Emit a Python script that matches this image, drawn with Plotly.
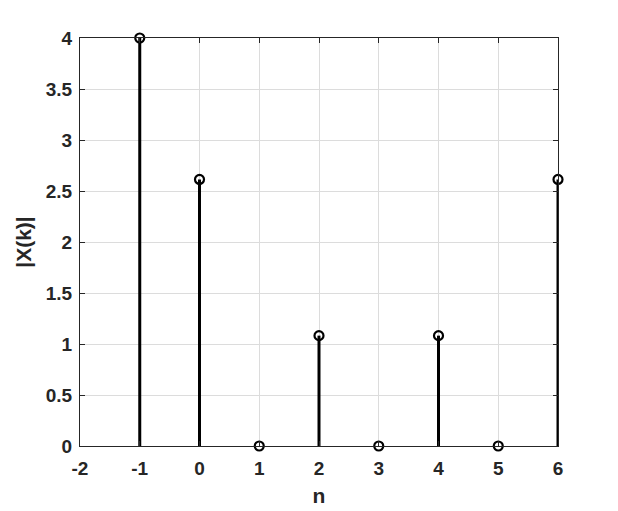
import plotly.graph_objects as go

n = [-1, 0, 1, 2, 3, 4, 5, 6]
mag = [4.0, 2.613, 0.0, 1.082, 0.0, 1.082, 0.0, 2.613]
x_ticks = [-2, -1, 0, 1, 2, 3, 4, 5, 6]
y_ticks = [0, 0.5, 1, 1.5, 2, 2.5, 3, 3.5, 4]

sx, sy = [], []
for xi, yi in zip(n, mag):
    sx += [xi, xi, None]
    sy += [0, yi, None]

FONT = "Liberation Sans, Arial"
fig = go.Figure()
fig.add_trace(go.Scatter(x=sx, y=sy, mode="lines",
                         line=dict(color="black", width=3), hoverinfo="skip",
                         showlegend=False))
fig.add_trace(go.Scatter(x=n, y=mag, mode="markers",
                         marker=dict(symbol="circle-open", size=9, color="black",
                                     line=dict(width=2.2, color="black")),
                         showlegend=False, cliponaxis=False))

axis_common = dict(showgrid=True, gridcolor="#dcdcdc", gridwidth=1,
                   showline=True, linecolor="#262626", linewidth=1, mirror="ticks",
                   ticks="inside", ticklen=5, tickcolor="#262626",
                   zeroline=False,
                   tickfont=dict(family=FONT, size=19, color="#262626", weight="bold"))

fig.update_xaxes(range=[-2, 6], tickvals=x_ticks,
                 ticktext=[str(v) for v in x_ticks],
                 ticklabelstandoff=5,
                 title=dict(text="<b>n</b>", font=dict(family=FONT, size=21, color="#262626"), standoff=10),
                 **axis_common)
fig.update_yaxes(range=[0, 4], tickvals=y_ticks,
                 ticktext=[("%g" % v) for v in y_ticks],
                 ticklabelstandoff=3,
                 title=dict(text="<b>|X(k)|</b>", font=dict(family=FONT, size=21, color="#262626"), standoff=8),
                 **axis_common)

fig.update_layout(width=618, height=511,
                  margin=dict(l=72, r=68, t=30, b=73),
                  paper_bgcolor="white", plot_bgcolor="white")

fig.write_html("out.html")
